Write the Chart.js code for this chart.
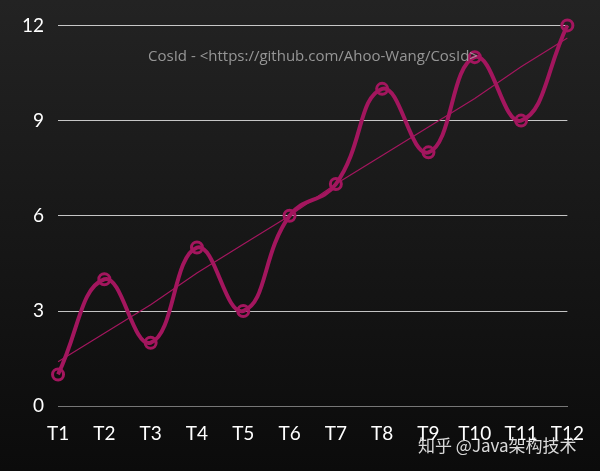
<!DOCTYPE html>
<html>
<head>
<meta charset="utf-8">
<script src="https://cdn.jsdelivr.net/npm/chart.js"></script>
<style>
html,body{margin:0;padding:0;}
body{width:600px;height:471px;background:linear-gradient(#232323,#0b0b0b);}
</style>
</head>
<body>
<canvas id="c" width="600" height="471"></canvas>
<script>
var labels = ['T1','T2','T3','T4','T5','T6','T7','T8','T9','T10','T11','T12'];
var values = [1,4,2,5,3,6,7,10,8,11,9,12];
var trend = [1.4,2.3,3.2,4.2,5.1,6.0,7.0,7.9,8.8,9.7,10.7,11.6];
var yTicks = [0,3,6,9,12];

var color = '#a3165e';

var texts = {
	id: 'texts',
	afterDraw: function(chart){
		var ctx = chart.ctx;
		ctx.save();
		ctx.font = '15px "Open Sans", sans-serif';
		ctx.fillStyle = 'rgba(170,170,170,0.85)';
		ctx.textAlign = 'center';
		ctx.textBaseline = 'middle';
		ctx.fillText('CosId - <https://github.com/Ahoo-Wang/CosId>', 313, 57);
		ctx.font = '17px "Noto Sans CJK SC", sans-serif';
		ctx.fillStyle = 'rgba(255,255,255,0.85)';
		ctx.textAlign = 'left';
		ctx.fillText('知乎 @Java架构技术', 418, 446);
		ctx.restore();
	}
};

new Chart(document.getElementById('c'), {
	type: 'line',
	data: {
		labels: labels,
		datasets: [{
			data: values,
			borderColor: color,
			borderWidth: 4,
			tension: 0.45,
			pointRadius: 5.5,
			pointBorderWidth: 3,
			pointBackgroundColor: 'rgba(0,0,0,0)',
			pointBorderColor: color,
			clip: false
		}, {
			data: trend,
			borderColor: color,
			borderWidth: 1.2,
			pointRadius: 0,
			tension: 0
		}]
	},
	options: {
		responsive: false,
		animation: false,
		layout: {padding: {top: 0, right: 32, left: 8, bottom: 10}},
		plugins: {legend: {display: false}, tooltip: {enabled: false}},
		scales: {
			x: {
				offset: false,
				grid: {display: false, drawTicks: false},
				border: {color: '#777'},
				ticks: {color: '#fff', font: {size: 19, family: 'Lato, sans-serif'}, padding: 16}
			},
			y: {
				min: 0, max: 12,
				afterBuildTicks: function(ax){ ax.ticks = yTicks.map(function(v){return {value: v};}); },
				grid: {color: 'rgba(255,255,255,0.75)', drawTicks: false},
				border: {display: false},
				ticks: {color: '#fff', font: {size: 19, family: 'Lato, sans-serif'}, padding: 14}
			}
		}
	},
	plugins: [texts]
});
</script>
</body>
</html>
